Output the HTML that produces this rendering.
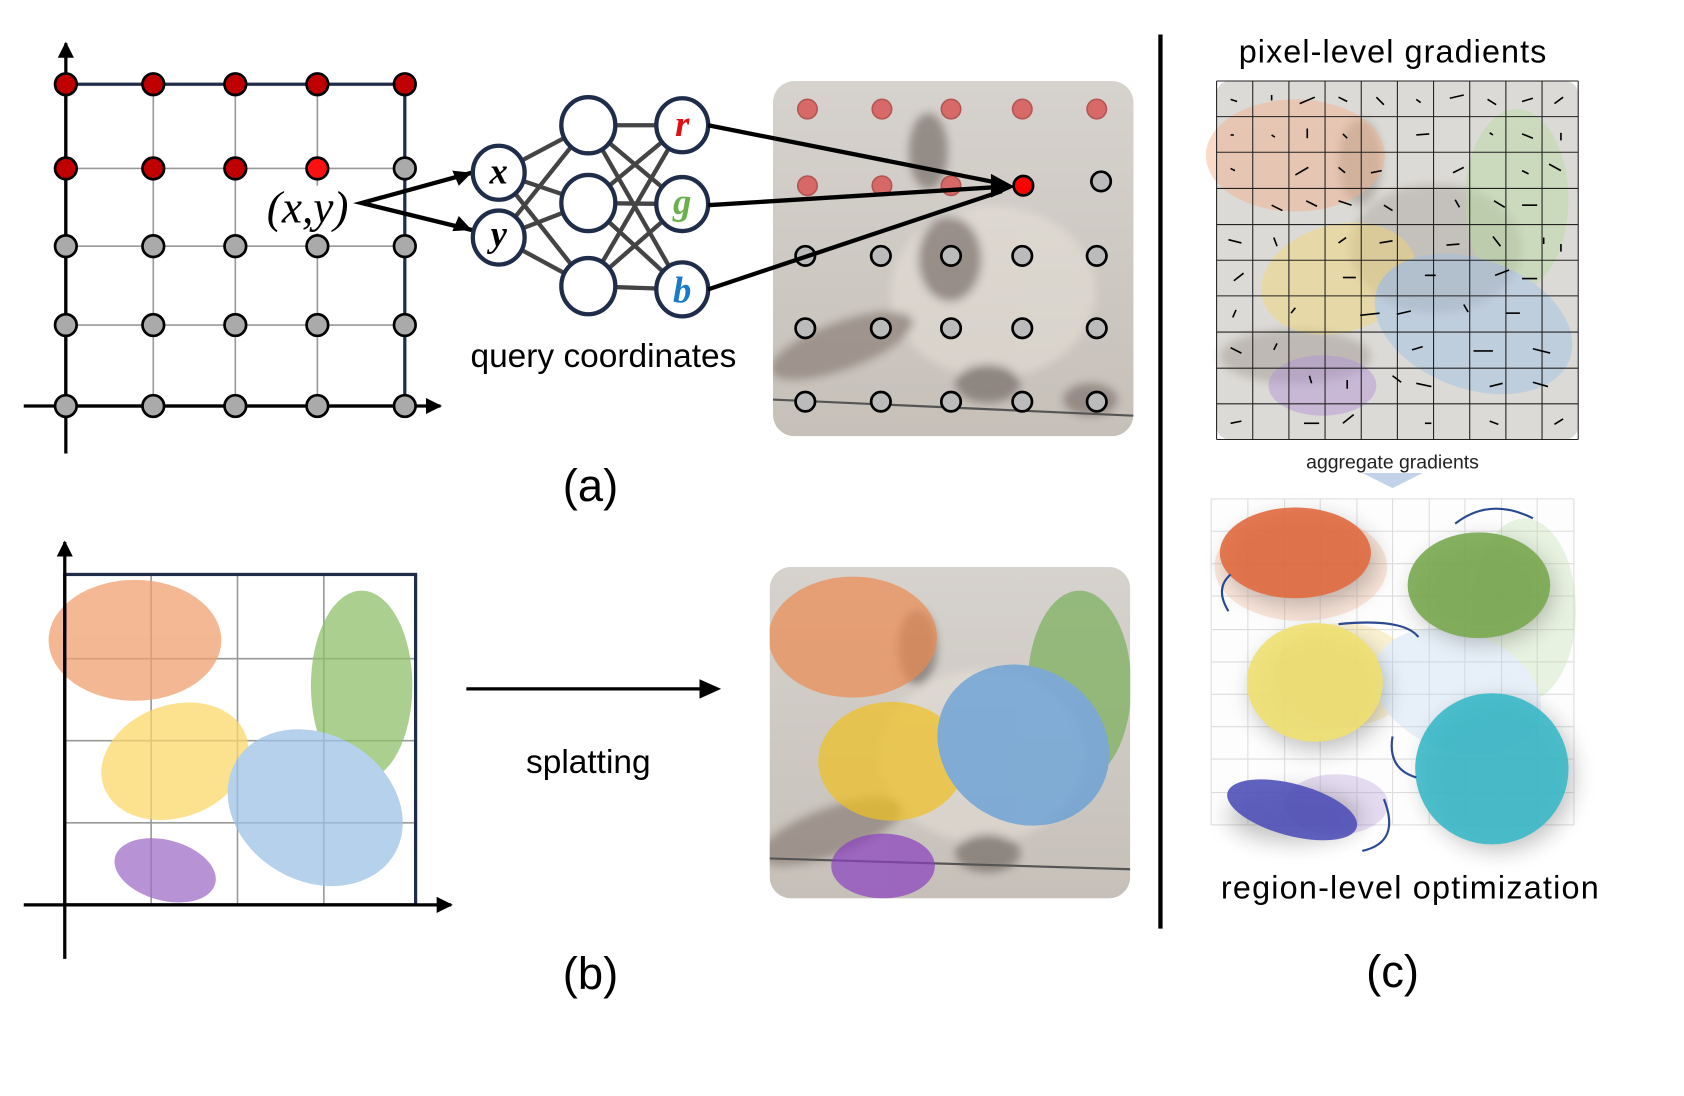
<!DOCTYPE html>
<html><head><meta charset="utf-8"><style>html,body{margin:0;padding:0;background:#fff}svg{display:block}</style></head><body>
<svg width="1684" height="1096" viewBox="0 0 1560 1015" preserveAspectRatio="none" xmlns="http://www.w3.org/2000/svg" font-family="Liberation Sans, sans-serif">
<defs>
<marker id="ah" viewBox="0 0 10 10" refX="9" refY="5" markerWidth="5" markerHeight="5" orient="auto"><path d="M0,0L10,5L0,10z" fill="#000"/></marker>
<linearGradient id="cat" x1="0" y1="0" x2="0" y2="1"><stop offset="0" stop-color="#d6d2cd"/><stop offset="1" stop-color="#c6c0b9"/></linearGradient>
<filter id="bl"><feGaussianBlur stdDeviation="4"/></filter>
<filter id="bl2"><feGaussianBlur stdDeviation="10"/></filter>
<clipPath id="c1"><rect x="716" y="75" width="334" height="329" rx="20"/></clipPath>
<clipPath id="c2"><rect x="713" y="525" width="334" height="307" rx="20"/></clipPath>
</defs>

<!-- (a) grid -->
<g stroke="#999" stroke-width="1.5">
<line x1="142" y1="78" x2="142" y2="376"/><line x1="218" y1="78" x2="218" y2="376"/><line x1="294" y1="78" x2="294" y2="376"/>
<line x1="61" y1="156" x2="375" y2="156"/><line x1="61" y1="228" x2="375" y2="228"/><line x1="61" y1="301" x2="375" y2="301"/>
</g>
<rect x="61" y="78" width="314" height="298" fill="none" stroke="#1f2d4a" stroke-width="3"/>
<line x1="61" y1="420" x2="61" y2="40" stroke="#000" stroke-width="3" marker-end="url(#ah)"/>
<line x1="22" y1="376" x2="408" y2="376" stroke="#000" stroke-width="3" marker-end="url(#ah)"/>
<g stroke="#000" stroke-width="2.5">
<g fill="#c00000"><circle cx="61" cy="78" r="10"/><circle cx="142" cy="78" r="10"/><circle cx="218" cy="78" r="10"/><circle cx="294" cy="78" r="10"/><circle cx="375" cy="78" r="10"/>
<circle cx="61" cy="156" r="10"/><circle cx="142" cy="156" r="10"/><circle cx="218" cy="156" r="10"/></g>
<circle cx="294" cy="156" r="10" fill="#ff1010"/>
<g fill="#aaa"><circle cx="375" cy="156" r="10"/>
<circle cx="61" cy="228" r="10"/><circle cx="142" cy="228" r="10"/><circle cx="218" cy="228" r="10"/><circle cx="294" cy="228" r="10"/><circle cx="375" cy="228" r="10"/>
<circle cx="61" cy="301" r="10"/><circle cx="142" cy="301" r="10"/><circle cx="218" cy="301" r="10"/><circle cx="294" cy="301" r="10"/><circle cx="375" cy="301" r="10"/>
<circle cx="61" cy="376" r="10"/><circle cx="142" cy="376" r="10"/><circle cx="218" cy="376" r="10"/><circle cx="294" cy="376" r="10"/><circle cx="375" cy="376" r="10"/></g>
</g>
<rect x="240" y="172" width="92" height="44" fill="#fff"/>
<text x="285" y="206" text-anchor="middle" font-family="Liberation Serif, serif" font-style="italic" font-size="42">(x,y)</text>
<path d="M437,160L335,188L437,213" fill="none" stroke="#000" stroke-width="4"/>
<path d="M437,160l-18,-2l6,14z M437,213l-12,-13l-6,14z" fill="#000"/>

<!-- NN -->
<g stroke="#444" stroke-width="4">
<line x1="462" y1="160" x2="545" y2="116"/><line x1="462" y1="160" x2="545" y2="188"/><line x1="462" y1="160" x2="545" y2="265"/>
<line x1="462" y1="220" x2="545" y2="116"/><line x1="462" y1="220" x2="545" y2="188"/><line x1="462" y1="220" x2="545" y2="265"/>
<line x1="545" y1="116" x2="632" y2="116"/><line x1="545" y1="116" x2="632" y2="189"/><line x1="545" y1="116" x2="632" y2="268"/>
<line x1="545" y1="188" x2="632" y2="116"/><line x1="545" y1="188" x2="632" y2="189"/><line x1="545" y1="188" x2="632" y2="268"/>
<line x1="545" y1="265" x2="632" y2="116"/><line x1="545" y1="265" x2="632" y2="189"/><line x1="545" y1="265" x2="632" y2="268"/>
</g>
<g fill="#fff" stroke="#1f2d4a" stroke-width="4">
<ellipse cx="462" cy="160" rx="24" ry="25"/><ellipse cx="462" cy="220" rx="24" ry="25"/>
<ellipse cx="545" cy="116" rx="25" ry="26"/><ellipse cx="545" cy="188" rx="25" ry="26"/><ellipse cx="545" cy="265" rx="25" ry="26"/>
<ellipse cx="632" cy="116" rx="24" ry="25"/><ellipse cx="632" cy="189" rx="24" ry="25"/><ellipse cx="632" cy="268" rx="24" ry="25"/>
</g>
<g font-family="Liberation Serif, serif" font-style="italic" font-weight="bold" font-size="34" text-anchor="middle">
<text x="462" y="170">x</text><text x="462" y="228">y</text>
<text x="632" y="126" fill="#e01010">r</text><text x="632" y="198" fill="#6ab04c">g</text><text x="632" y="280" fill="#1a7ac8">b</text>
</g>
<text x="559" y="340" text-anchor="middle" font-size="31">query coordinates</text>

<!-- cat 1 -->
<g clip-path="url(#c1)">
<rect x="716" y="75" width="334" height="329" fill="url(#cat)"/>
<g filter="url(#bl)" opacity=".45">
<ellipse cx="920" cy="270" rx="95" ry="80" fill="#ece6de"/>
<ellipse cx="880" cy="240" rx="30" ry="40" fill="#5a4a44"/>
<ellipse cx="860" cy="140" rx="18" ry="35" fill="#4a3c38"/>
<ellipse cx="780" cy="320" rx="70" ry="22" fill="#6a5a52" transform="rotate(-20 780 320)"/>
<ellipse cx="915" cy="355" rx="30" ry="18" fill="#4a3c38"/>
<ellipse cx="1010" cy="370" rx="25" ry="15" fill="#5a4a44"/>
</g>
<line x1="716" y1="370" x2="1050" y2="385" stroke="#555" stroke-width="2"/>
</g>
<g fill="#d85858" stroke="#b04040" stroke-width="1.5" opacity=".85">
<circle cx="748" cy="101" r="9"/><circle cx="817" cy="101" r="9"/><circle cx="881" cy="101" r="9"/><circle cx="947" cy="101" r="9"/><circle cx="1016" cy="101" r="9"/>
<circle cx="748" cy="172" r="9"/><circle cx="817" cy="172" r="9"/><circle cx="881" cy="172" r="9"/>
</g>
<g fill="#bbb" stroke="#000" stroke-width="2.5">
<circle cx="1020" cy="168" r="9"/>
<circle cx="746" cy="237" r="9"/><circle cx="816" cy="237" r="9"/><circle cx="881" cy="237" r="9"/><circle cx="947" cy="237" r="9"/><circle cx="1016" cy="237" r="9"/>
<circle cx="746" cy="304" r="9"/><circle cx="816" cy="304" r="9"/><circle cx="881" cy="304" r="9"/><circle cx="947" cy="304" r="9"/><circle cx="1016" cy="304" r="9"/>
<circle cx="746" cy="372" r="9"/><circle cx="816" cy="372" r="9"/><circle cx="881" cy="372" r="9"/><circle cx="947" cy="372" r="9"/><circle cx="1016" cy="372" r="9"/>
</g>
<g stroke="#000" stroke-width="4" fill="none">
<line x1="656" y1="116" x2="928" y2="170"/><line x1="656" y1="190" x2="928" y2="173"/><line x1="656" y1="268" x2="928" y2="177"/>
</g>
<path d="M940,173l-22,-12l0,22z" fill="#000"/>
<circle cx="948" cy="172" r="9" fill="#ff0000" stroke="#000" stroke-width="2.5"/>
<text x="547" y="464" text-anchor="middle" font-size="42">(a)</text>

<!-- (b) -->
<g stroke="#999" stroke-width="1.5">
<line x1="140" y1="532" x2="140" y2="838"/><line x1="220" y1="532" x2="220" y2="838"/><line x1="300" y1="532" x2="300" y2="838"/>
<line x1="60" y1="610" x2="385" y2="610"/><line x1="60" y1="686" x2="385" y2="686"/><line x1="60" y1="762" x2="385" y2="762"/>
</g>
<g opacity=".75">
<ellipse cx="125" cy="593" rx="80" ry="56" fill="#f0a070"/>
<ellipse cx="162" cy="705" rx="70" ry="52" fill="#fbd76a" transform="rotate(-20 162 705)"/>
<ellipse cx="335" cy="635" rx="47" ry="88" fill="#8fbf6a"/>
<ellipse cx="292" cy="748" rx="85" ry="68" fill="#9ec2e6" transform="rotate(30 292 748)"/>
<ellipse cx="153" cy="806" rx="48" ry="28" fill="#a070c8" transform="rotate(15 153 806)"/>
</g>
<rect x="60" y="532" width="325" height="306" fill="none" stroke="#1f2d4a" stroke-width="3"/>
<line x1="60" y1="888" x2="60" y2="502" stroke="#000" stroke-width="3" marker-end="url(#ah)"/>
<line x1="22" y1="838" x2="418" y2="838" stroke="#000" stroke-width="3" marker-end="url(#ah)"/>
<line x1="436" y1="656" x2="668" y2="656" stroke="#888" stroke-width="6" filter="url(#bl)"/>
<line x1="432" y1="638" x2="654" y2="638" stroke="#000" stroke-width="3"/>
<path d="M668,638l-20,-9v18z" fill="#000"/>
<text x="545" y="716" text-anchor="middle" font-size="31">splatting</text>

<g clip-path="url(#c2)">
<rect x="713" y="525" width="334" height="307" fill="url(#cat)"/>
<g filter="url(#bl)" opacity=".45">
<ellipse cx="910" cy="700" rx="95" ry="80" fill="#ece6de"/>
<ellipse cx="850" cy="600" rx="18" ry="35" fill="#4a3c38"/>
<ellipse cx="770" cy="770" rx="70" ry="22" fill="#6a5a52" transform="rotate(-20 770 770)"/>
<ellipse cx="915" cy="790" rx="30" ry="18" fill="#4a3c38"/>
</g>
<line x1="713" y1="795" x2="1047" y2="805" stroke="#555" stroke-width="2"/>
<g opacity=".7">
<ellipse cx="790" cy="590" rx="78" ry="56" fill="#ec8a50"/>
<ellipse cx="1000" cy="635" rx="48" ry="88" fill="#7ab05a"/>
<ellipse cx="826" cy="705" rx="68" ry="55" fill="#f0c020"/>
<ellipse cx="948" cy="690" rx="82" ry="72" fill="#5a9ad8" transform="rotate(30 948 690)"/>
<ellipse cx="818" cy="802" rx="48" ry="30" fill="#8a40c0"/>
</g>
</g>
<text x="547" y="916" text-anchor="middle" font-size="42">(b)</text>

<!-- divider -->
<line x1="1075" y1="32" x2="1075" y2="860" stroke="#000" stroke-width="4"/>

<!-- (c) top -->
<text x="1290" y="58" text-anchor="middle" font-size="30" textLength="285" lengthAdjust="spacing">pixel-level gradients</text>
<rect x="1127" y="75" width="335" height="332" rx="12" fill="#dcdad6"/>
<g filter="url(#bl)" opacity=".45">
<ellipse cx="1330" cy="230" rx="80" ry="60" fill="#a8a29c"/>
<ellipse cx="1260" cy="150" rx="20" ry="40" fill="#8a827c"/>
<ellipse cx="1200" cy="330" rx="70" ry="25" fill="#9a928c"/>
</g>
<g opacity=".45">
<ellipse cx="1200" cy="144" rx="83" ry="52" fill="#f4b08a"/>
<ellipse cx="1405" cy="185" rx="48" ry="84" fill="#b8dca0"/>
<ellipse cx="1240" cy="258" rx="73" ry="50" fill="#f6d870" transform="rotate(-15 1240 258)"/>
<ellipse cx="1365" cy="300" rx="95" ry="60" fill="#9ec0e6" transform="rotate(20 1365 300)"/>
<ellipse cx="1225" cy="357" rx="50" ry="28" fill="#b090d8"/>
</g>
<g stroke="#222" stroke-width="1">
<line x1="1127" y1="75" x2="1127" y2="407"/><line x1="1160.5" y1="75" x2="1160.5" y2="407"/><line x1="1194" y1="75" x2="1194" y2="407"/><line x1="1227.5" y1="75" x2="1227.5" y2="407"/><line x1="1261" y1="75" x2="1261" y2="407"/><line x1="1294.5" y1="75" x2="1294.5" y2="407"/><line x1="1328" y1="75" x2="1328" y2="407"/><line x1="1361.5" y1="75" x2="1361.5" y2="407"/><line x1="1395" y1="75" x2="1395" y2="407"/><line x1="1428.5" y1="75" x2="1428.5" y2="407"/><line x1="1462" y1="75" x2="1462" y2="407"/>
<line x1="1127" y1="75" x2="1462" y2="75"/><line x1="1127" y1="108" x2="1462" y2="108"/><line x1="1127" y1="141" x2="1462" y2="141"/><line x1="1127" y1="174.5" x2="1462" y2="174.5"/><line x1="1127" y1="208" x2="1462" y2="208"/><line x1="1127" y1="241" x2="1462" y2="241"/><line x1="1127" y1="274" x2="1462" y2="274"/><line x1="1127" y1="307.5" x2="1462" y2="307.5"/><line x1="1127" y1="341" x2="1462" y2="341"/><line x1="1127" y1="374" x2="1462" y2="374"/><line x1="1127" y1="407" x2="1462" y2="407"/>
</g>
<g stroke="#000" stroke-width="1.5">
<line x1="1140" y1="92" x2="1146" y2="94"/><line x1="1178" y1="93" x2="1178" y2="88"/><line x1="1204" y1="96" x2="1218" y2="90"/><line x1="1240" y1="90" x2="1248" y2="94"/><line x1="1275" y1="90" x2="1282" y2="97"/><line x1="1312" y1="92" x2="1316" y2="95"/><line x1="1343" y1="91" x2="1356" y2="88"/><line x1="1378" y1="92" x2="1386" y2="97"/><line x1="1410" y1="94" x2="1420" y2="91"/><line x1="1440" y1="96" x2="1448" y2="90"/>
<line x1="1140" y1="125" x2="1143" y2="125"/><line x1="1178" y1="125" x2="1181" y2="127"/><line x1="1211" y1="128" x2="1211" y2="119"/><line x1="1244" y1="124" x2="1248" y2="128"/><line x1="1312" y1="125" x2="1324" y2="124"/><line x1="1380" y1="123" x2="1383" y2="125"/><line x1="1410" y1="124" x2="1420" y2="128"/><line x1="1446" y1="123" x2="1446" y2="130"/>
<line x1="1140" y1="156" x2="1144" y2="158"/><line x1="1200" y1="162" x2="1212" y2="155"/><line x1="1240" y1="155" x2="1246" y2="160"/><line x1="1270" y1="160" x2="1280" y2="158"/><line x1="1346" y1="160" x2="1356" y2="155"/><line x1="1410" y1="158" x2="1416" y2="161"/><line x1="1435" y1="152" x2="1446" y2="158"/>
<line x1="1178" y1="190" x2="1188" y2="195"/><line x1="1210" y1="186" x2="1220" y2="191"/><line x1="1240" y1="186" x2="1252" y2="190"/><line x1="1282" y1="190" x2="1290" y2="195"/><line x1="1348" y1="185" x2="1352" y2="192"/><line x1="1384" y1="186" x2="1394" y2="192"/><line x1="1410" y1="190" x2="1424" y2="190"/>
<line x1="1138" y1="222" x2="1150" y2="225"/><line x1="1180" y1="220" x2="1183" y2="228"/><line x1="1240" y1="225" x2="1247" y2="220"/><line x1="1278" y1="225" x2="1290" y2="223"/><line x1="1340" y1="227" x2="1352" y2="226"/><line x1="1383" y1="219" x2="1390" y2="228"/><line x1="1430" y1="220" x2="1430" y2="226"/><line x1="1446" y1="226" x2="1446" y2="233"/>
<line x1="1143" y1="260" x2="1152" y2="253"/><line x1="1244" y1="257" x2="1256" y2="257"/><line x1="1320" y1="255" x2="1330" y2="255"/><line x1="1385" y1="255" x2="1398" y2="250"/><line x1="1410" y1="258" x2="1424" y2="258"/>
<line x1="1142" y1="294" x2="1145" y2="287"/><line x1="1196" y1="290" x2="1200" y2="285"/><line x1="1260" y1="292" x2="1278" y2="290"/><line x1="1294" y1="291" x2="1307" y2="288"/><line x1="1356" y1="282" x2="1360" y2="289"/><line x1="1395" y1="290" x2="1408" y2="290"/>
<line x1="1140" y1="322" x2="1150" y2="327"/><line x1="1180" y1="324" x2="1183" y2="318"/><line x1="1308" y1="324" x2="1318" y2="321"/><line x1="1365" y1="325" x2="1383" y2="325"/><line x1="1420" y1="323" x2="1436" y2="327"/>
<line x1="1215" y1="355" x2="1213" y2="348"/><line x1="1248" y1="360" x2="1248" y2="352"/><line x1="1290" y1="348" x2="1298" y2="354"/><line x1="1312" y1="355" x2="1326" y2="358"/><line x1="1380" y1="358" x2="1392" y2="355"/><line x1="1420" y1="354" x2="1434" y2="358"/>
<line x1="1140" y1="392" x2="1150" y2="390"/><line x1="1208" y1="392" x2="1222" y2="392"/><line x1="1244" y1="392" x2="1254" y2="384"/><line x1="1320" y1="392" x2="1326" y2="392"/><line x1="1380" y1="390" x2="1388" y2="393"/><line x1="1440" y1="393" x2="1448" y2="388"/>
</g>
<text x="1290" y="434" text-anchor="middle" font-size="18" fill="#222">aggregate gradients</text>
<path d="M1262,438L1318,438L1290,452z" fill="#a8c0e0" opacity=".7"/>

<!-- (c) bottom -->
<rect x="1122" y="462" width="336" height="302" fill="#fdfdfd"/>
<g stroke="#ddd" stroke-width="1">
<line x1="1122" y1="462" x2="1122" y2="764"/><line x1="1156" y1="462" x2="1156" y2="764"/><line x1="1190" y1="462" x2="1190" y2="764"/><line x1="1223" y1="462" x2="1223" y2="764"/><line x1="1257" y1="462" x2="1257" y2="764"/><line x1="1290" y1="462" x2="1290" y2="764"/><line x1="1324" y1="462" x2="1324" y2="764"/><line x1="1357" y1="462" x2="1357" y2="764"/><line x1="1391" y1="462" x2="1391" y2="764"/><line x1="1424" y1="462" x2="1424" y2="764"/><line x1="1458" y1="462" x2="1458" y2="764"/>
<line x1="1122" y1="462" x2="1458" y2="462"/><line x1="1122" y1="492" x2="1458" y2="492"/><line x1="1122" y1="522" x2="1458" y2="522"/><line x1="1122" y1="552" x2="1458" y2="552"/><line x1="1122" y1="583" x2="1458" y2="583"/><line x1="1122" y1="613" x2="1458" y2="613"/><line x1="1122" y1="643" x2="1458" y2="643"/><line x1="1122" y1="673" x2="1458" y2="673"/><line x1="1122" y1="703" x2="1458" y2="703"/><line x1="1122" y1="734" x2="1458" y2="734"/><line x1="1122" y1="764" x2="1458" y2="764"/>
</g>
<g opacity=".3">
<ellipse cx="1205" cy="525" rx="80" ry="50" fill="#f4b08a"/>
<ellipse cx="1412" cy="565" rx="48" ry="85" fill="#b8dca0"/>
<ellipse cx="1245" cy="625" rx="65" ry="48" fill="#f6d870"/>
<ellipse cx="1350" cy="640" rx="80" ry="55" fill="#b8d4f0" transform="rotate(20 1350 640)"/>
<ellipse cx="1238" cy="745" rx="48" ry="28" fill="#b090d8"/>
</g>
<g filter="url(#bl2)" fill="#555" opacity=".35">
<ellipse cx="1206" cy="520" rx="70" ry="42"/><ellipse cx="1374" cy="548" rx="65" ry="48"/><ellipse cx="1222" cy="640" rx="63" ry="55"/><ellipse cx="1388" cy="718" rx="70" ry="70"/><ellipse cx="1200" cy="756" rx="62" ry="24"/>
</g>
<ellipse cx="1200" cy="512" rx="70" ry="42" fill="#e06a40" opacity=".9"/>
<ellipse cx="1370" cy="542" rx="66" ry="49" fill="#79a850" opacity=".9"/>
<ellipse cx="1218" cy="632" rx="63" ry="55" fill="#f0e070" opacity=".9"/>
<ellipse cx="1382" cy="712" rx="71" ry="70" fill="#3ab8c8" opacity=".9"/>
<ellipse cx="1197" cy="750" rx="62" ry="24" fill="#5050b8" opacity=".9" transform="rotate(15 1197 750)"/>
<g fill="none" stroke="#2a4a90" stroke-width="2">
<path d="M1138,566Q1125,545 1140,532"/><path d="M1348,485Q1380,460 1420,480"/><path d="M1314,590Q1300,572 1240,578"/><path d="M1290,682Q1285,712 1312,720"/><path d="M1262,788Q1298,780 1282,740"/>
</g>
<text x="1306" y="832" text-anchor="middle" font-size="30" textLength="350" lengthAdjust="spacing">region-level optimization</text>
<text x="1290" y="914" text-anchor="middle" font-size="42">(c)</text>
</svg>
</body></html>
